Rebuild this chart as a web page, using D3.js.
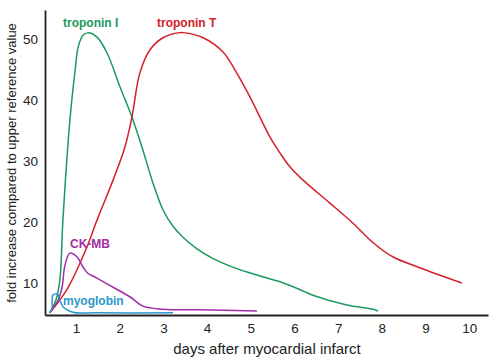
<!DOCTYPE html>
<html>
<head>
<meta charset="utf-8">
<script src="https://cdn.jsdelivr.net/npm/d3@7"></script>
<style>
  body { margin: 0; background: #fff; }
  svg { display: block; font-family: "Liberation Sans", Arial, sans-serif; }
</style>
</head>
<body>
<svg id="chart" width="495" height="362"></svg>
<script>
// days after infarct / fold increase
const tropIDays = [0.40, 0.54, 0.63, 0.70, 0.86, 0.98, 1.05, 1.16, 1.27, 1.48, 1.71, 2.01, 2.28, 2.53, 2.76, 2.99, 3.22, 3.45, 3.77, 4.14, 4.59, 5.14, 5.67, 6.13, 6.42, 7.20, 7.80, 7.91];
const tropIVals = [5.1, 7.2, 10.5, 20.3, 36.7, 44.9, 48.7, 50.6, 51.0, 50.3, 47.7, 42.1, 37.2, 31.8, 26.4, 22.0, 19.3, 17.5, 15.6, 14.0, 12.6, 11.3, 10.2, 8.9, 8.0, 6.4, 5.7, 5.4];

const tropTDays = [0.40, 0.79, 1.25, 1.48, 1.85, 2.12, 2.28, 2.46, 2.69, 2.99, 3.33, 3.50, 3.91, 4.36, 4.68, 4.98, 5.21, 5.44, 5.67, 5.90, 6.19, 6.81, 7.34, 7.80, 8.25, 8.87, 9.83];
const tropTVals = [5.1, 8.9, 15.9, 20.3, 26.9, 32.3, 37.2, 44.4, 48.2, 50.2, 51.0, 51.0, 50.2, 47.9, 44.4, 40.5, 37.2, 33.9, 31.3, 29.0, 26.9, 23.1, 19.8, 16.6, 14.3, 12.5, 10.0];

const ckmbDays = [0.40, 0.59, 0.68, 0.75, 0.86, 1.02, 1.16, 1.27, 1.48, 1.85, 2.24, 2.53, 2.99, 3.84, 5.14];
const ckmbVals = [5.1, 7.2, 9.3, 13.0, 14.9, 14.3, 12.6, 11.6, 10.8, 9.3, 7.7, 6.2, 5.7, 5.6, 5.4];

const myoDays = [0.40, 0.45, 0.47, 0.57, 0.63, 0.70, 0.93, 1.48, 3.22];
const myoVals = [5.1, 5.9, 8.0, 8.2, 7.2, 6.1, 5.2, 5.1, 5.1];

const xTicks = [1, 2, 3, 4, 5, 6, 7, 8, 9, 10];
const yTicks = [10, 20, 30, 40, 50];

const series = [
  { name: "troponin I", days: tropIDays, vals: tropIVals, color: "#1b9a5c", lx: 63, ly: 27 },
  { name: "troponin T", days: tropTDays, vals: tropTVals, color: "#d3202a", lx: 157, ly: 27 },
  { name: "CK-MB", days: ckmbDays, vals: ckmbVals, color: "#a22ca6", lx: 70, ly: 248 },
  { name: "myoglobin", days: myoDays, vals: myoVals, color: "#2a98cf", lx: 63, ly: 305 }
];

const svg = d3.select("#chart");
const margin = { left: 45, right: 7, top: 10, bottom: 47 };
const width = 495, height = 362;

const x = d3.scaleLinear().domain([0.29, 10.43]).range([margin.left, width - margin.right]);
const y = d3.scaleLinear().domain([4.75, 54.75]).range([height - margin.bottom, margin.top]);

// axes
const xAxis = svg.append("g")
    .attr("transform", `translate(0,${height - margin.bottom})`)
    .call(d3.axisBottom(x).tickValues(xTicks).tickSize(0).tickPadding(8).tickSizeOuter(0));
const yAxis = svg.append("g")
    .attr("transform", `translate(${margin.left},0)`)
    .call(d3.axisLeft(y).tickValues(yTicks).tickSize(0).tickPadding(7).tickSizeOuter(0));

[xAxis, yAxis].forEach(g => {
    g.select(".domain").attr("stroke", "#222").attr("stroke-width", 1.8);
    g.selectAll("text").attr("font-size", 13.5).attr("fill", "#222")
        .attr("font-family", "'Liberation Sans', Arial, sans-serif");
});

svg.append("text")
    .attr("x", 267).attr("y", 354)
    .attr("text-anchor", "middle")
    .attr("font-size", 15).attr("fill", "#222")
    .text("days after myocardial infarct");

svg.append("text")
    .attr("transform", "translate(16,163) rotate(-90)")
    .attr("text-anchor", "middle")
    .attr("font-size", 13).attr("fill", "#222")
    .text("fold increase compared to upper reference value");

// curves
const line = d3.line()
    .x(d => x(d[0]))
    .y(d => y(d[1]))
    .curve(d3.curveCatmullRom.alpha(0.5));

series.forEach(s => {
    const pts = s.days.map((d, i) => [d, s.vals[i]]);
    svg.append("path")
        .datum(pts)
        .attr("d", line)
        .attr("fill", "none")
        .attr("stroke", s.color)
        .attr("stroke-width", 1.5);
});

series.forEach(s => {
    svg.append("text")
        .attr("x", s.lx).attr("y", s.ly)
        .attr("font-size", 12).attr("font-weight", "bold")
        .attr("fill", s.color)
        .text(s.name);
});
</script>
</body>
</html>
